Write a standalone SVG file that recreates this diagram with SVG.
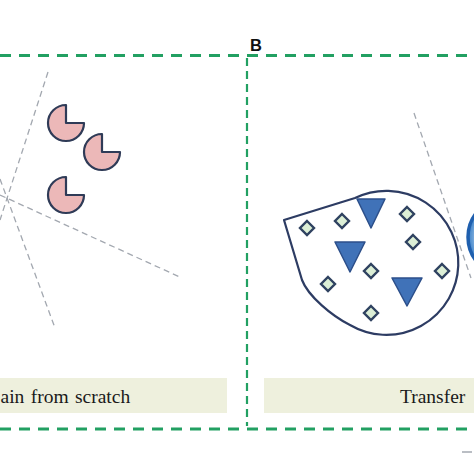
<svg xmlns="http://www.w3.org/2000/svg" width="474" height="474" viewBox="0 0 474 474">
<defs>
<style>
.frame{fill:none;stroke:#22a062;stroke-width:3;stroke-dasharray:11 8}
.vframe{fill:none;stroke:#22a062;stroke-width:2.2;stroke-dasharray:8 5}
.guide{fill:none;stroke:#a3a8b0;stroke-width:1.3;stroke-dasharray:6 4}
.pac{fill:#ecb8b8;stroke:#2f3b57;stroke-width:2.2;stroke-linejoin:round}
.dia{fill:#dcefd6;stroke:#2f4260;stroke-width:2.4}
.tri{fill:#4072b8;stroke:#2c4f8a;stroke-width:1.5;stroke-linejoin:round}
.band{fill:#eef0dd}
.lbl{font-family:"Liberation Serif","Times New Roman",serif;font-size:19.5px;fill:#1a1a1a}
</style>
<radialGradient id="bg1" cx="0.5" cy="0.5" r="0.5">
<stop offset="0.6" stop-color="#dcebf8"/>
<stop offset="1" stop-color="#3a80c8"/>
</radialGradient>
</defs>
<rect width="474" height="474" fill="#ffffff"/>

<g id="frame">
<line class="frame" x1="0" y1="55.5" x2="474" y2="55.5"/>
<line class="frame" x1="0" y1="429" x2="474" y2="429"/>
<line class="vframe" x1="247" y1="58" x2="247" y2="426"/>
<text x="250" y="50.5" font-family="Liberation Sans, Arial, sans-serif" font-weight="bold" font-size="16.5" fill="#111">B</text>
</g>

<g id="connectors">
<line class="guide" x1="48" y1="72" x2="0" y2="220"/>
<line class="guide" x1="0" y1="179" x2="55" y2="328"/>
<line class="guide" x1="0" y1="195" x2="182" y2="278"/>
<line class="guide" x1="414" y1="113" x2="471" y2="278"/>
<line x1="462" y1="452" x2="472" y2="452" stroke="#a3a8b0" stroke-width="1.5"/>
</g>

<g id="pacmen">
<path class="pac" d="M66,123 L66,105 A18,18 0 1,0 84,123 Z"/>
<path class="pac" d="M102,152 L102,134 A18,18 0 1,0 120,152 Z"/>
<path class="pac" d="M66,195 L66,177 A18,18 0 1,0 84,195 Z"/>
</g>

<g id="blob">
<path d="M284,220 L355,198 A72,72 0 1,1 350,325 C332,316 308,296 302,280 Z" fill="#ffffff" stroke="#2d3c63" stroke-width="2.2" stroke-linejoin="round"/>
</g>

<g id="triangles">
<polygon class="tri" points="357,199 385,199 371,228"/>
<polygon class="tri" points="335,242 365,242 350,272"/>
<polygon class="tri" points="392,278 422,278 407,306"/>
</g>

<g id="diamonds">
<polygon class="dia" points="307,221 314,228 307,235 300,228"/>
<polygon class="dia" points="342,214 349,221 342,228 335,221"/>
<polygon class="dia" points="407,207 414,214 407,221 400,214"/>
<polygon class="dia" points="413,235 420,242 413,249 406,242"/>
<polygon class="dia" points="371,264 378,271 371,278 364,271"/>
<polygon class="dia" points="328,277 335,284 328,291 321,284"/>
<polygon class="dia" points="442,264 449,271 442,278 435,271"/>
<polygon class="dia" points="371,306 378,313 371,320 364,313"/>
</g>

<g id="blue-circle">
<circle cx="507" cy="237" r="39" fill="url(#bg1)" stroke="#1f5fae" stroke-width="3.5"/>
</g>

<g id="label-left">
<rect class="band" x="0" y="378" width="227" height="35"/>
<text class="lbl" x="0.5" y="403" word-spacing="1.5">ain from scratch</text>
</g>

<g id="label-right">
<rect class="band" x="264" y="378" width="210" height="35"/>
<text class="lbl" x="400" y="403" font-size="19">Transfer</text>
</g>
</svg>
